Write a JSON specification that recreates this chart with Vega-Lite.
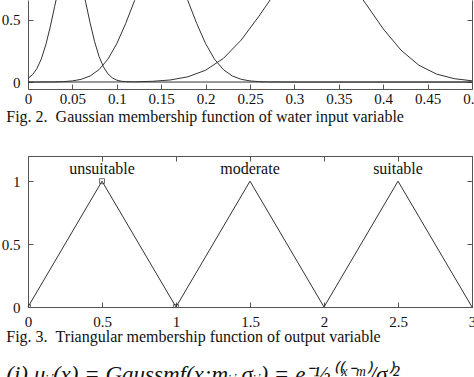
{
  "$schema": "https://vega.github.io/schema/vega-lite/v6.json",
  "padding": {"left": 0, "top": 0, "right": 0, "bottom": 0},
  "background": "white",
  "spacing": 30,
  "config": {
    "font": "Liberation Serif",
    "view": {"stroke": "#555", "strokeWidth": 1},
    "axis": {
      "labelFont": "Liberation Serif",
      "labelFontSize": 15,
      "labelColor": "#111",
      "domainColor": "#555",
      "tickColor": "#555",
      "grid": false,
      "labelFlush": false,
      "labelOverlap": false,
      "tickSize": -5,
      "format": "~g"
    }
  },
  "datasets": {
    "gauss": [
      {"mf": "g1", "x": 0, "y": 0.029},
      {"mf": "g1", "x": 0.005, "y": 0.058},
      {"mf": "g1", "x": 0.01, "y": 0.108},
      {"mf": "g1", "x": 0.015, "y": 0.186},
      {"mf": "g1", "x": 0.02, "y": 0.298},
      {"mf": "g1", "x": 0.025, "y": 0.442},
      {"mf": "g1", "x": 0.03, "y": 0.607},
      {"mf": "g1", "x": 0.035, "y": 0.77},
      {"mf": "g1", "x": 0.04, "y": 0.906},
      {"mf": "g1", "x": 0.045, "y": 0.986},
      {"mf": "g1", "x": 0.048, "y": 1},
      {"mf": "g1", "x": 0.05, "y": 0.994},
      {"mf": "g1", "x": 0.055, "y": 0.927},
      {"mf": "g1", "x": 0.06, "y": 0.801},
      {"mf": "g1", "x": 0.065, "y": 0.64},
      {"mf": "g1", "x": 0.07, "y": 0.474},
      {"mf": "g1", "x": 0.075, "y": 0.325},
      {"mf": "g1", "x": 0.08, "y": 0.206},
      {"mf": "g1", "x": 0.085, "y": 0.121},
      {"mf": "g1", "x": 0.09, "y": 0.066},
      {"mf": "g1", "x": 0.095, "y": 0.033},
      {"mf": "g1", "x": 0.1, "y": 0.015},
      {"mf": "g1", "x": 0.105, "y": 0.0066},
      {"mf": "g1", "x": 0.11, "y": 0.0027},
      {"mf": "g1", "x": 0.12, "y": 0.0003},
      {"mf": "g1", "x": 0.15, "y": 0},
      {"mf": "g1", "x": 0.5, "y": 0},
      {"mf": "g2", "x": 0, "y": 0},
      {"mf": "g2", "x": 0.03, "y": 0.0011},
      {"mf": "g2", "x": 0.04, "y": 0.0034},
      {"mf": "g2", "x": 0.05, "y": 0.0091},
      {"mf": "g2", "x": 0.06, "y": 0.022},
      {"mf": "g2", "x": 0.07, "y": 0.049},
      {"mf": "g2", "x": 0.08, "y": 0.1},
      {"mf": "g2", "x": 0.09, "y": 0.184},
      {"mf": "g2", "x": 0.1, "y": 0.309},
      {"mf": "g2", "x": 0.11, "y": 0.471},
      {"mf": "g2", "x": 0.12, "y": 0.655},
      {"mf": "g2", "x": 0.13, "y": 0.828},
      {"mf": "g2", "x": 0.14, "y": 0.954},
      {"mf": "g2", "x": 0.15, "y": 1},
      {"mf": "g2", "x": 0.16, "y": 0.954},
      {"mf": "g2", "x": 0.17, "y": 0.828},
      {"mf": "g2", "x": 0.18, "y": 0.655},
      {"mf": "g2", "x": 0.19, "y": 0.471},
      {"mf": "g2", "x": 0.2, "y": 0.309},
      {"mf": "g2", "x": 0.21, "y": 0.184},
      {"mf": "g2", "x": 0.22, "y": 0.1},
      {"mf": "g2", "x": 0.23, "y": 0.049},
      {"mf": "g2", "x": 0.24, "y": 0.022},
      {"mf": "g2", "x": 0.25, "y": 0.0091},
      {"mf": "g2", "x": 0.26, "y": 0.0034},
      {"mf": "g2", "x": 0.27, "y": 0.0011},
      {"mf": "g2", "x": 0.3, "y": 0},
      {"mf": "g2", "x": 0.5, "y": 0},
      {"mf": "g3", "x": 0, "y": 0},
      {"mf": "g3", "x": 0.1, "y": 0.0005},
      {"mf": "g3", "x": 0.12, "y": 0.0018},
      {"mf": "g3", "x": 0.14, "y": 0.0058},
      {"mf": "g3", "x": 0.16, "y": 0.0165},
      {"mf": "g3", "x": 0.18, "y": 0.042},
      {"mf": "g3", "x": 0.2, "y": 0.095},
      {"mf": "g3", "x": 0.22, "y": 0.19},
      {"mf": "g3", "x": 0.24, "y": 0.337},
      {"mf": "g3", "x": 0.26, "y": 0.529},
      {"mf": "g3", "x": 0.28, "y": 0.737},
      {"mf": "g3", "x": 0.3, "y": 0.91},
      {"mf": "g3", "x": 0.32, "y": 0.996},
      {"mf": "g3", "x": 0.325, "y": 1},
      {"mf": "g3", "x": 0.34, "y": 0.967},
      {"mf": "g3", "x": 0.36, "y": 0.831},
      {"mf": "g3", "x": 0.38, "y": 0.634},
      {"mf": "g3", "x": 0.4, "y": 0.428},
      {"mf": "g3", "x": 0.42, "y": 0.257},
      {"mf": "g3", "x": 0.44, "y": 0.136},
      {"mf": "g3", "x": 0.46, "y": 0.064},
      {"mf": "g3", "x": 0.48, "y": 0.027},
      {"mf": "g3", "x": 0.5, "y": 0.0099}
    ],
    "tri": [
      {"mf": "unsuitable", "x": 0, "y": 0},
      {"mf": "unsuitable", "x": 0.5, "y": 1},
      {"mf": "unsuitable", "x": 1, "y": 0},
      {"mf": "moderate", "x": 1, "y": 0},
      {"mf": "moderate", "x": 1.5, "y": 1},
      {"mf": "moderate", "x": 2, "y": 0},
      {"mf": "suitable", "x": 2, "y": 0},
      {"mf": "suitable", "x": 2.5, "y": 1},
      {"mf": "suitable", "x": 3, "y": 0}
    ],
    "labels": [
      {"name": "unsuitable", "x": 0.5, "y": 1.095},
      {"name": "moderate", "x": 1.5, "y": 1.095},
      {"name": "suitable", "x": 2.5, "y": 1.095}
    ],
    "marks": [
      {"x": 0, "y": 0},
      {"x": 0.5, "y": 1},
      {"x": 1, "y": 0}
    ]
  },
  "vconcat": [
    {
      "width": 444,
      "height": 89,
      "view": {"stroke": null},
      "title": {
        "text": "Fig. 2.\u00a0\u00a0Gaussian membership function of water input variable",
        "orient": "bottom",
        "anchor": "start",
        "frame": "bounds",
        "font": "Liberation Serif",
        "fontSize": 16,
        "fontWeight": "normal",
        "color": "#111",
        "offset": 2,
        "dx": 5
      },
      "data": {"name": "gauss"},
      "layer": [
        {
          "mark": {"type": "line", "clip": true, "color": "#333", "strokeWidth": 1},
          "encoding": {
            "x": {"field": "x", "type": "quantitative", "scale": {"domain": [0, 0.5], "nice": false},
                  "axis": {"title": null, "values": [0, 0.05, 0.1, 0.15, 0.2, 0.25, 0.3, 0.35, 0.4, 0.45, 0.5], "labelPadding": 7.5}},
            "y": {"field": "y", "type": "quantitative", "scale": {"domain": [-0.056, 0.66], "nice": false, "zero": false},
                  "axis": {"title": null, "values": [0, 0.5], "labelPadding": 13}},
            "detail": {"field": "mf"}
          }
        },
        {
          "mark": {"type": "line", "clip": true, "opacity": 0},
          "encoding": {
            "x": {"field": "x", "type": "quantitative"},
            "y": {"field": "y", "type": "quantitative",
                  "axis": {"title": null, "orient": "right", "values": [0, 0.5], "labels": false}},
            "detail": {"field": "mf"}
          }
        }
      ],
      "resolve": {"axis": {"y": "independent"}}
    },
    {
      "width": 444,
      "height": 151,
      "title": {
        "text": "Fig. 3.\u00a0\u00a0Triangular membership function of output variable",
        "subtitle": "(i) μᵢⱼ(x) = Gaussmf(x;mᵢⱼ,σᵢⱼ) = e⁻½⁽⁽ˣ⁻ᵐ⁾/σ⁾²",
        "orient": "bottom",
        "anchor": "start",
        "frame": "bounds",
        "font": "Liberation Serif",
        "fontSize": 16,
        "fontWeight": "normal",
        "color": "#111",
        "subtitleFont": "Liberation Serif",
        "subtitleFontSize": 23,
        "subtitleFontStyle": "italic",
        "subtitleColor": "#111",
        "subtitlePadding": 19,
        "offset": 0,
        "dx": 5
      },
      "layer": [
        {
          "data": {"name": "tri"},
          "mark": {"type": "line", "color": "#333", "strokeWidth": 1},
          "encoding": {
            "x": {"field": "x", "type": "quantitative", "scale": {"domain": [0, 3], "nice": false},
                  "axis": {"title": null, "values": [0, 0.5, 1, 1.5, 2, 2.5, 3], "labelPadding": 12}},
            "y": {"field": "y", "type": "quantitative", "scale": {"domain": [0, 1.2], "nice": false},
                  "axis": {"title": null, "values": [0, 0.5, 1], "labelPadding": 13}},
            "detail": {"field": "mf"}
          }
        },
        {
          "data": {"name": "tri"},
          "mark": {"type": "line", "opacity": 0},
          "encoding": {
            "x": {"field": "x", "type": "quantitative",
                  "axis": {"title": null, "orient": "top", "values": [0, 0.5, 1, 1.5, 2, 2.5, 3], "labels": false}},
            "y": {"field": "y", "type": "quantitative",
                  "axis": {"title": null, "orient": "right", "values": [0, 0.5, 1], "labels": false}},
            "detail": {"field": "mf"}
          }
        },
        {
          "data": {"name": "marks"},
          "mark": {"type": "point", "shape": "square", "size": 25, "filled": false, "color": "#333", "strokeWidth": 1, "clip": true},
          "encoding": {
            "x": {"field": "x", "type": "quantitative", "axis": null},
            "y": {"field": "y", "type": "quantitative", "axis": null}
          }
        },
        {
          "data": {"name": "labels"},
          "mark": {"type": "text", "font": "Liberation Serif", "fontSize": 16, "color": "#111", "baseline": "middle", "align": "center"},
          "encoding": {
            "x": {"field": "x", "type": "quantitative", "axis": null},
            "y": {"field": "y", "type": "quantitative", "axis": null},
            "text": {"field": "name"}
          }
        }
      ],
      "resolve": {"axis": {"x": "independent", "y": "independent"}}
    }
  ]
}
